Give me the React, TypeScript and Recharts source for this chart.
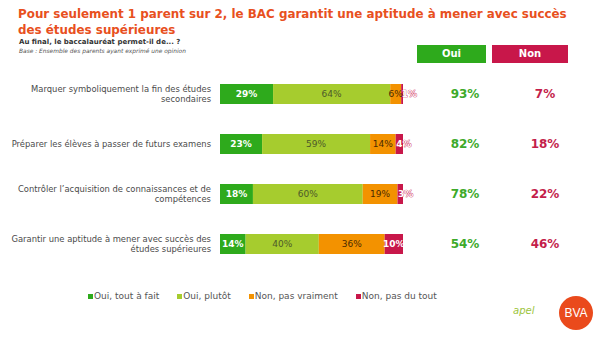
import React from 'react'
import { BarChart, Bar, XAxis, YAxis, LabelList } from 'recharts'

const categories = [
  'Marquer symboliquement la fin des études secondaires',
  'Préparer les élèves à passer de futurs examens',
  "Contrôler l’acquisition de connaissances et de compétences",
  'Garantir une aptitude à mener avec succès des études supérieures',
]
const ouiToutAFait = [29, 23, 18, 14]
const ouiPlutot = [64, 59, 60, 40]
const nonPasVraiment = [6, 14, 19, 36]
const nonPasDuTout = [1, 4, 3, 10]
const ouiTotal = [93, 82, 78, 54]
const nonTotal = [7, 18, 22, 46]

const FONT = "'DejaVu Sans', Verdana, sans-serif"
const GREEN = '#2eaa1c'
const LIGHT = '#a6cc2e'
const ORANGE = '#f39200'
const RED = '#c8174a'

const series = [
  { key: 'toutAFait', name: 'Oui, tout à fait', values: ouiToutAFait, color: GREEN, text: '#ffffff', weight: 700 },
  { key: 'plutot', name: 'Oui, plutôt', values: ouiPlutot, color: LIGHT, text: '#4d5a2a', weight: 400 },
  { key: 'pasVraiment', name: 'Non, pas vraiment', values: nonPasVraiment, color: ORANGE, text: '#4a2a00', weight: 400 },
  { key: 'pasDuTout', name: 'Non, pas du tout', values: nonPasDuTout, color: RED, text: '#ffffff', weight: 700 },
]

const data = categories.map((label, i) => {
  const row: Record<string, string | number> = { label, oui: ouiTotal[i], non: nonTotal[i] }
  series.forEach((s) => {
    row[s.key] = s.values[i]
  })
  return row
})

const wrap = (text: string, max: number) => {
  const lines: string[] = []
  let cur = ''
  text.split(' ').forEach((w) => {
    const next = cur ? cur + ' ' + w : w
    if (next.length > max && cur) {
      lines.push(cur)
      cur = w
    } else cur = next
  })
  if (cur) lines.push(cur)
  return lines
}

const CategoryTick = (props: any) => {
  const { x, y, payload } = props
  const lines = wrap(payload.value, 48)
  const lh = 10
  const y0 = y - ((lines.length - 1) * lh) / 2
  return (
    <text x={x} y={y0} textAnchor='end' fontSize={8.4} fill='#4a4a4a' fontFamily={FONT}>
      {lines.map((l, i) => (
        <tspan key={i} x={x} y={y0 + i * lh} dy='0.35em'>
          {l}
        </tspan>
      ))}
    </text>
  )
}

const TotalsTick = (props: any) => {
  const { x, y, index } = props
  return (
    <g fontFamily={FONT} fontWeight={700} fontSize={12}>
      <text x={x + 54} y={y} dy='0.35em' textAnchor='middle' fill='#3daa2a'>
        {ouiTotal[index]}%
      </text>
      <text x={x + 134} y={y} dy='0.35em' textAnchor='middle' fill='#c41e4b'>
        {nonTotal[index]}%
      </text>
    </g>
  )
}

// small segments: label starts at the bar and spills out to the right
const SmallAwareLabel = (props: any) => {
  const { x, y, width, height, value, textColor, weight } = props
  const small = Number(value) < 5
  return (
    <text
      x={small ? x + 0.5 : x + width / 2}
      y={y + height / 2}
      dy='0.35em'
      textAnchor={small ? 'start' : 'middle'}
      fontSize={9}
      fontWeight={weight}
      fontFamily={FONT}
      fill={textColor}
      stroke={small ? RED : 'none'}
      strokeWidth={small ? 0.7 : 0}
      paintOrder='stroke'
    >
      {value}%
    </text>
  )
}

const App: React.FC = () => {
  return (
    <div
      style={{
        position: 'absolute',
        left: 0,
        top: 0,
        width: 600,
        height: 337,
        background: '#fff',
        fontFamily: FONT,
        overflow: 'hidden',
      }}
    >
      <div
        style={{
          position: 'absolute',
          left: 18,
          top: 6,
          width: 560,
          fontSize: 11.9,
          lineHeight: '16px',
          fontWeight: 700,
          color: '#e8501e',
        }}
      >
        Pour seulement 1 parent sur 2, le BAC garantit une aptitude à mener avec succès des études supérieures
      </div>
      <div style={{ position: 'absolute', left: 19, top: 38, fontSize: 7, fontWeight: 700, color: '#333' }}>
        Au final, le baccalauréat permet-il de... ?
      </div>
      <div style={{ position: 'absolute', left: 19, top: 48, fontSize: 5.9, fontStyle: 'italic', color: '#555' }}>
        Base : Ensemble des parents ayant exprimé une opinion
      </div>
      <div
        style={{
          position: 'absolute',
          left: 417,
          top: 45,
          width: 69,
          height: 18,
          background: GREEN,
          color: '#fff',
          fontWeight: 700,
          fontSize: 10,
          lineHeight: '18px',
          textAlign: 'center',
        }}
      >
        Oui
      </div>
      <div
        style={{
          position: 'absolute',
          left: 492,
          top: 45,
          width: 76,
          height: 18,
          background: RED,
          color: '#fff',
          fontWeight: 700,
          fontSize: 10,
          lineHeight: '18px',
          textAlign: 'center',
        }}
      >
        Non
      </div>

      <div style={{ position: 'absolute', left: 0, top: 0 }}>
        <BarChart
          width={600}
          height={337}
          data={data}
          layout='vertical'
          margin={{ top: 69, bottom: 68, left: 0, right: 0 }}
          barSize={20}
        >
          <XAxis type='number' domain={[0, 100]} hide />
          <YAxis
            yAxisId='left'
            type='category'
            dataKey='label'
            width={220}
            axisLine={false}
            tickLine={false}
            tickMargin={3}
            tick={<CategoryTick />}
          />
          <YAxis
            yAxisId='right'
            orientation='right'
            type='category'
            dataKey='label'
            width={197}
            axisLine={false}
            tickLine={false}
            tick={<TotalsTick />}
          />
          {series.map((s) => (
            <Bar
              key={s.key}
              yAxisId='left'
              dataKey={s.key}
              name={s.name}
              stackId='a'
              fill={s.color}
              isAnimationActive={false}
            >
              <LabelList
                dataKey={s.key}
                content={<SmallAwareLabel textColor={s.text} weight={s.weight} />}
              />
            </Bar>
          ))}
        </BarChart>
      </div>

      <div
        style={{
          position: 'absolute',
          left: 88,
          top: 291,
          display: 'flex',
          gap: 18,
          fontSize: 9,
          color: '#555',
          alignItems: 'center',
        }}
      >
        {series.map((s) => (
          <div key={s.key} style={{ display: 'flex', alignItems: 'center' }}>
            <span style={{ width: 5, height: 5, background: s.color, marginRight: 1, display: 'inline-block' }} />
            <span>{s.name}</span>
          </div>
        ))}
      </div>

      <div
        style={{
          position: 'absolute',
          left: 513,
          top: 305,
          fontSize: 10,
          fontStyle: 'italic',
          color: '#9cc43c',
        }}
      >
        apel
      </div>
      <div
        style={{
          position: 'absolute',
          left: 559,
          top: 296,
          width: 34,
          height: 34,
          borderRadius: 17,
          background: '#ea4a1c',
          color: '#fff',
          fontSize: 12,
          lineHeight: '34px',
          textAlign: 'center',
          fontFamily: "'Liberation Sans', Arial, sans-serif",
        }}
      >
        BVA
      </div>
    </div>
  )
}

export default App
